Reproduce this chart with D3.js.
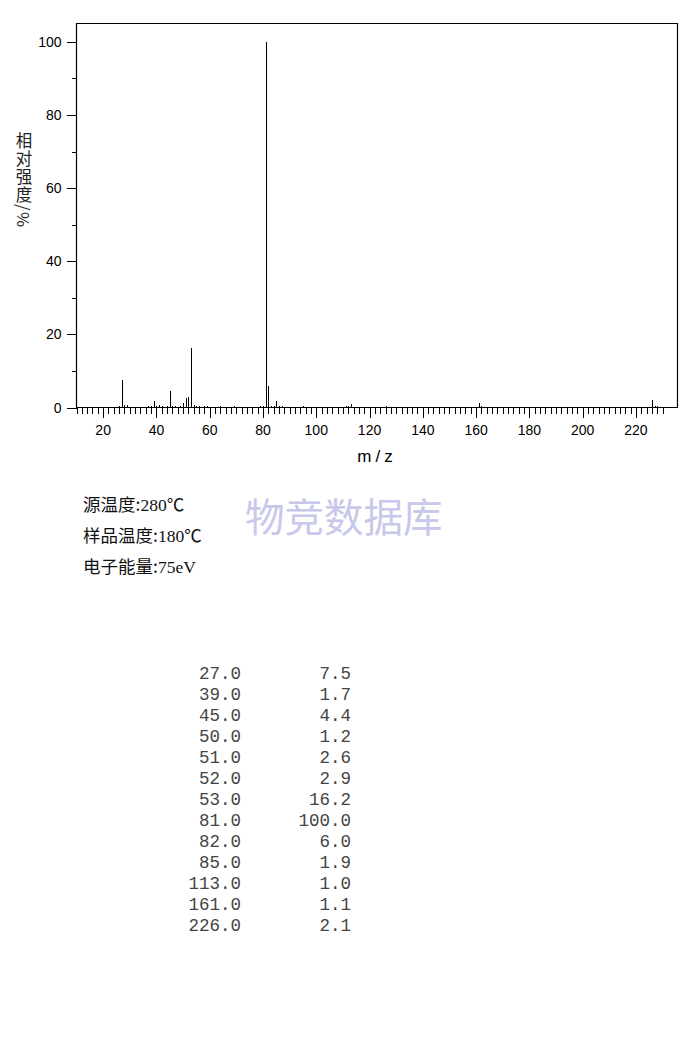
<!DOCTYPE html>
<html lang="zh">
<head>
<meta charset="UTF-8">
<script src="https://d3js.org/d3.v7.min.js"></script>
<style>
  body { margin: 0; background: #fff; }
  #ms { display: block; }
  .tick-label { font-family: "Liberation Sans", Arial, sans-serif; font-size: 14px; fill: #000; }
  .info { font-family: "Liberation Serif", "Noto Sans CJK SC", serif; font-size: 17.5px; fill: #111; }
  .cjk { font-family: "Noto Sans CJK SC", sans-serif; }
  .peaklist { font-family: "Liberation Mono", "Courier New", monospace; font-size: 17.5px; fill: #444; }
</style>
</head>
<body>
<svg id="ms" width="687" height="1037"></svg>
<script>
// listed peaks (m/z, relative intensity %)
const listMz = [27, 39, 45, 50, 51, 52, 53, 81, 82, 85, 113, 161, 226];
const listInt = [7.5, 1.7, 4.4, 1.2, 2.6, 2.9, 16.2, 100.0, 6.0, 1.9, 1.0, 1.1, 2.1];

// small peaks seen in the plot but not in the list
const minorMz = [26, 28, 29, 37, 38, 40, 41, 42, 44, 46, 47, 49, 54, 55, 56, 58, 59, 64, 69, 76, 79, 80, 83, 84, 86, 87, 95, 111, 112, 126, 162, 195, 227, 228];
const minorInt = [0.4, 0.6, 0.8, 0.3, 0.5, 0.4, 0.8, 0.4, 0.3, 0.4, 0.4, 0.5, 0.7, 0.3, 0.3, 0.5, 0.5, 0.4, 0.5, 0.2, 0.3, 0.3, 0.5, 0.3, 0.4, 0.4, 0.3, 0.3, 0.5, 0.3, 0.3, 0.2, 0.5, 0.5];

const xMajor = [20, 40, 60, 80, 100, 120, 140, 160, 180, 200, 220];
const yMajor = [0, 20, 40, 60, 80, 100];

const infoLabels = ["源温度:", "样品温度:", "电子能量:"];
const infoValues = ["280", "180", "75eV"];
const infoUnits = ["℃", "℃", ""];

const svg = d3.select("#ms");
const pLeft = 76.5, pRight = 677.5, pTop = 23.5, pBottom = 407.5;

const x = d3.scaleLinear().domain([10, 235.6]).range([pLeft, pRight]);
const y = d3.scaleLinear().domain([0, 105]).range([pBottom, pTop]);

const peaks = listMz.map((m, i) => ({mz: m, v: listInt[i]}))
  .concat(minorMz.map((m, i) => ({mz: m, v: minorInt[i]})));

// frame
svg.append("path")
  .attr("d", `M${pLeft},${pBottom}V${pTop}H${pRight}V${pBottom}Z`)
  .attr("fill", "none").attr("stroke", "#000").attr("stroke-width", 1.2);

// x ticks: every 2, longer every 20
const g = svg.append("g").attr("shape-rendering", "crispEdges");
d3.range(10, 232, 2).forEach(t => {
  const major = t % 20 === 0;
  g.append("line")
    .attr("x1", Math.round(x(t)) + 0.5).attr("x2", Math.round(x(t)) + 0.5)
    .attr("y1", pBottom).attr("y2", pBottom + (major ? 10 : 6))
    .attr("stroke", "#000");
});
svg.selectAll("text.xl").data(xMajor).join("text")
  .attr("class", "tick-label xl")
  .attr("x", d => x(d)).attr("y", pBottom + 27)
  .attr("text-anchor", "middle").text(d => d);

// y ticks
d3.range(0, 101, 10).forEach(t => {
  const major = t % 20 === 0;
  g.append("line")
    .attr("x1", pLeft - (major ? 10 : 5)).attr("x2", pLeft)
    .attr("y1", Math.round(y(t)) + 0.5).attr("y2", Math.round(y(t)) + 0.5)
    .attr("stroke", "#000");
});
svg.selectAll("text.yl").data(yMajor).join("text")
  .attr("class", "tick-label yl")
  .attr("x", pLeft - 15).attr("y", d => y(d) + 5)
  .attr("text-anchor", "end").text(d => d);

// peaks
g.selectAll("line.pk").data(peaks).join("line")
  .attr("class", "pk")
  .attr("x1", d => Math.round(x(d.mz)) + 0.5).attr("x2", d => Math.round(x(d.mz)) + 0.5)
  .attr("y1", pBottom).attr("y2", d => y(d.v))
  .attr("stroke", "#000");

// axis titles
svg.append("text")
  .attr("x", (pLeft + pRight) / 2).attr("y", 462)
  .attr("text-anchor", "middle")
  .style("font-family", "'Liberation Sans', Arial, sans-serif")
  .style("font-size", "17px").style("letter-spacing", "4px")
  .text("m/z");

svg.append("text")
  .attr("x", 24).attr("y", 132)
  .style("writing-mode", "vertical-rl")
  .style("font-family", "'Noto Sans CJK SC', sans-serif")
  .style("font-size", "16.5px").style("letter-spacing", "1.5px")
  .attr("fill", "#222")
  .text("相对强度/%");

// conditions
infoLabels.forEach((lab, i) => {
  const t = svg.append("text").attr("class", "info")
    .attr("x", 83).attr("y", 511 + i * 31);
  t.append("tspan").attr("class", "cjk").text(lab);
  t.append("tspan").text(infoValues[i]);
  if (infoUnits[i]) t.append("tspan").attr("class", "cjk").text(infoUnits[i]);
});

// watermark
svg.append("text")
  .attr("x", 245).attr("y", 532)
  .style("font-family", "'Noto Sans CJK SC', sans-serif")
  .style("font-size", "39.5px")
  .attr("fill", "#c8c8ea")
  .text("物竞数据库");

// peak list
const rows = svg.append("g").attr("class", "peaklist");
listMz.forEach((m, i) => {
  const yy = 679 + i * 21;
  rows.append("text").attr("x", 241).attr("y", yy).attr("text-anchor", "end").text(m.toFixed(1));
  rows.append("text").attr("x", 351).attr("y", yy).attr("text-anchor", "end").text(listInt[i].toFixed(1));
});
</script>
</body>
</html>
